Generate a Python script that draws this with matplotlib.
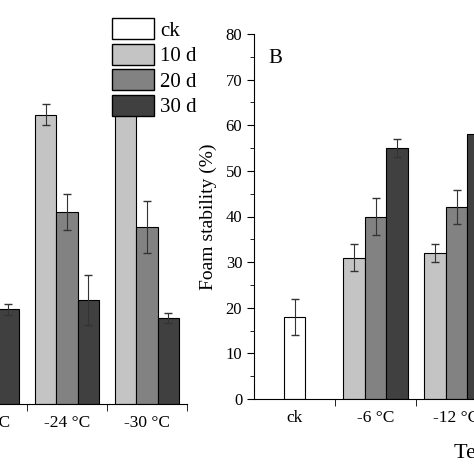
import matplotlib.pyplot as plt
from matplotlib.patches import Patch

plt.rcParams['font.family'] = ['Liberation Serif', 'DejaVu Serif']

groups = ["ck", "-6 °C", "-12 °C", "-18 °C", "-24 °C", "-30 °C"]
series = ["10 d", "20 d", "30 d"]
colors = ["#c4c4c4", "#828282", "#404040"]

# panel A (only the right part is visible)
a_groups = [3, 4, 5]
a_vals = {"10 d": [None, 63.4, 64.5], "20 d": [None, 42.1, 38.8], "30 d": [20.8, 22.8, 18.9]}
a_errs = {"10 d": [None, 2.3, 1.0], "20 d": [None, 4.0, 5.8], "30 d": [1.2, 5.5, 1.1]}

# panel B (only the left part is visible)
b_ck, b_ck_err = 18, 4
b_groups = [1, 2]
b_vals = {"10 d": [31, 32], "20 d": [40, 42], "30 d": [55, 58]}
b_errs = {"10 d": [3, 2], "20 d": [4, 3.7], "30 d": [2, 2]}

W = 474
fig = plt.figure(figsize=(4.74, 4.74), dpi=100)
w = 0.265
err_kw = dict(elinewidth=0.8, ecolor="#333333")

# left panel
axA = fig.add_axes([-53 / W, 70 / W, 240 / W, 365 / W])
for i, s in enumerate(series):
    for g, v, e in zip(a_groups, a_vals[s], a_errs[s]):
        if v is None:
            continue
        axA.bar(g + (i - 1) * w, v, w, color=colors[i], edgecolor="black", linewidth=0.8,
                yerr=e, capsize=3, error_kw=err_kw)
axA.set_xlim(2.5, 5.5)
axA.set_ylim(0, 80)
axA.set_xticks(a_groups)
axA.set_xticklabels([groups[g] for g in a_groups], fontsize=12.5)
axA.set_xticks([2.5, 3.5, 4.5, 5.5], minor=True)
axA.tick_params(axis="x", which="major", length=0, pad=8)
axA.tick_params(axis="x", which="minor", length=5, direction="out")
axA.set_yticks([])
for sp in ["left", "right", "top"]:
    axA.spines[sp].set_visible(False)

handles = [Patch(facecolor="white", edgecolor="black", label="ck")] + \
    [Patch(facecolor=c, edgecolor="black", label=s) for c, s in zip(colors, series)]
fig.legend(handles=handles, loc="upper left", bbox_to_anchor=(104 / W, 1 - 10 / W),
           frameon=False, fontsize=15, handlelength=2.0, handleheight=1.15,
           handletextpad=0.3, labelspacing=0.15, borderaxespad=0)

# right panel
axB = fig.add_axes([254 / W, 75 / W, 486 / W, 365 / W])
axB.bar(0, b_ck, w, color="white", edgecolor="black", linewidth=0.8,
        yerr=b_ck_err, capsize=3, error_kw=err_kw)
for i, s in enumerate(series):
    axB.bar([g + (i - 1) * w for g in b_groups], b_vals[s], w, color=colors[i],
            edgecolor="black", linewidth=0.8, yerr=b_errs[s], capsize=3,
            error_kw=err_kw)
axB.set_xlim(-0.5, 5.5)
axB.set_ylim(0, 80)
axB.set_xticks(range(len(groups)))
axB.set_xticklabels(groups, fontsize=12.5)
axB.set_xticks([0.5, 1.5, 2.5, 3.5, 4.5], minor=True)
axB.tick_params(axis="x", which="major", length=0, pad=8)
axB.tick_params(axis="x", which="minor", length=5, direction="out")
axB.set_yticks(range(0, 81, 10))
axB.set_yticks(range(5, 80, 10), minor=True)
axB.tick_params(axis="y", which="major", length=5, labelsize=12)
axB.tick_params(axis="y", which="minor", length=3)
axB.set_ylabel("Foam stability (%)", fontsize=14, labelpad=6)
axB.text(200 / 486, -0.12, "Temperature (°C)", transform=axB.transAxes,
         fontsize=16, va="top", ha="left")
axB.text(0.03, 0.96, "B", transform=axB.transAxes, fontsize=15, va="top")
for sp in ["right", "top"]:
    axB.spines[sp].set_visible(False)

fig.savefig("out.png", dpi=100)
